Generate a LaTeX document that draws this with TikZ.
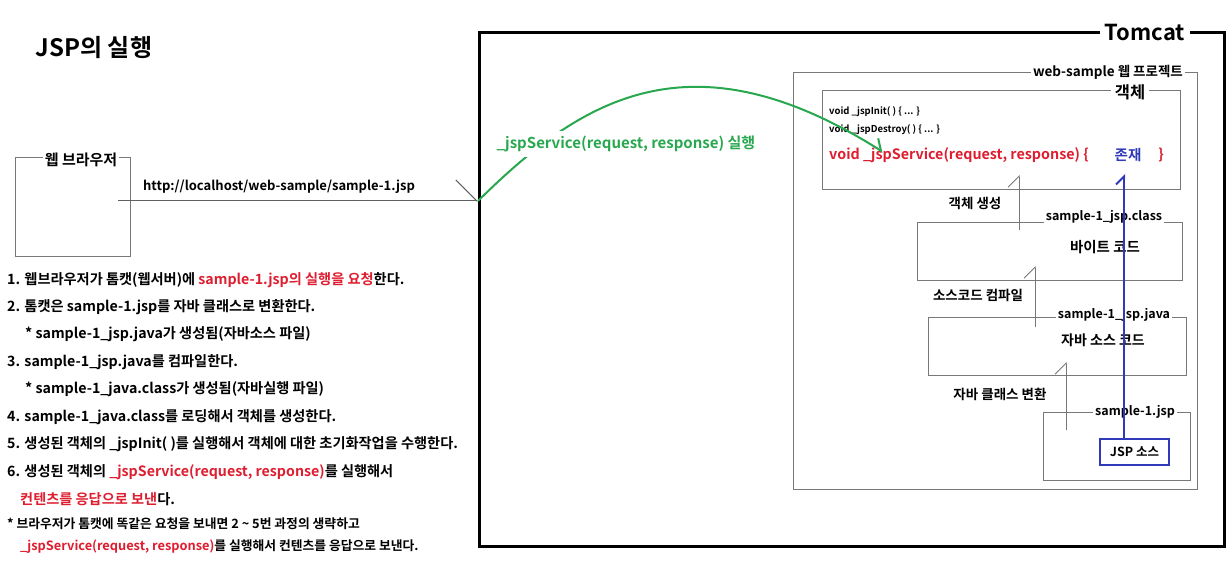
\documentclass[tikz,border=0pt]{standalone}
\usepackage{fontspec}
\setmainfont{Noto Sans CJK KR}[BoldFont={* Bold}]
\usetikzlibrary{arrows.meta}

\definecolor{jspred}{RGB}{222,30,48}
\definecolor{jspgreen}{RGB}{40,168,78}
\definecolor{jspblue}{RGB}{48,58,185}
\definecolor{boxgray}{RGB}{120,120,120}

\newcommand{\fs}[1]{\fontsize{#1}{#1}\selectfont\bfseries}

\begin{document}
\begin{tikzpicture}[x=1pt,y=-1pt,
    frame/.style={draw=boxgray,line width=1pt,anchor=north west,inner sep=0pt},
    tag/.style={fill=white,inner sep=2pt,font=\fs{12.5}},
    item/.style={anchor=west,inner sep=0pt,font=\fs{14.2}},
    half/.style={-{Straight Barb[harpoon,length=#1,width=2*#1]}},
    flow/.style={draw=boxgray,line width=1pt,half=11pt}]

    \useasboundingbox (0,0) rectangle (1231,572);
    \fill[white] (0,0) rectangle (1231,572);

    % Title
    \node[font=\fs{24}] (title) at (94,48) {JSP의 실행};

    % Web browser
    \node[frame,minimum width=115pt,minimum height=99pt] (browser) at (15,157) {};
    \node[tag,font=\fs{15}] (browsertag) at (81,160) {웹 브라우저};

    % Tomcat
    \node[draw,line width=3pt,anchor=north west,inner sep=0pt,
          minimum width=745pt,minimum height=514pt] (tomcat) at (478,31) {};
    \node[fill=white,inner sep=5pt,font=\fs{22}] (tomcattag) at (1145,33) {Tomcat};

    % Web project boxes
    \node[frame,minimum width=404pt,minimum height=417pt] (project) at (793,72) {};
    \node[tag,font=\fs{13.5}] (projecttag) at (1108,72) {web-sample 웹 프로젝트};

    \node[frame,minimum width=358pt,minimum height=99pt] (object) at (822,90) {};
    \node[tag,inner sep=4pt,font=\fs{16.5}] (objecttag) at (1130,92) {객체};

    \node[frame,minimum width=265pt,minimum height=58pt] (classbox) at (917,222) {};
    \node[tag] (classtag) at (1104,217) {sample-1\_jsp.class};

    \node[frame,minimum width=258pt,minimum height=58pt] (javabox) at (928,317) {};
    \node[tag] (javatag) at (1114,315) {sample-1\_jsp.java};

    \node[frame,minimum width=147pt,minimum height=68pt] (jspbox) at (1043,412) {};
    \node[tag] (jsptag) at (1135,412) {sample-1.jsp};

    \node[draw=jspblue,line width=2pt,anchor=north west,inner sep=0pt,
          minimum width=69pt,minimum height=26pt,font=\fs{12.5}] (jspsrc) at (1099,438) {JSP 소스};

    % Object methods
    \node[anchor=west,inner sep=0pt,font=\fs{9.5}] (init) at (829,112) {void \_jspInit( ) \{ ... \}};
    \node[anchor=west,inner sep=0pt,font=\fs{9.5}] (destroy) at (829,130) {void \_jspDestroy( ) \{ ... \}};
    \node[anchor=west,inner sep=0pt,font=\fs{14.3},text=jspred] (service) at (829,155) {void \_jspService(request, response) \{};
    \node[inner sep=0pt,font=\fs{14.5},text=jspblue] (exists) at (1128,155) {존재};
    \node[inner sep=0pt,font=\fs{14.3},text=jspred] (close) at (1161,155) {\}};

    % Box contents and step labels
    \node[font=\fs{14.5}] (bytecode) at (1105,247) {바이트 코드};
    \node[font=\fs{14}] (javacode) at (1103,340) {자바 소스 코드};
    \node[font=\fs{13.5}] (create) at (975,203) {객체 생성};
    \node[font=\fs{13.5}] (compile) at (978,295) {소스코드 컴파일};
    \node[font=\fs{13.5}] (convert) at (1000,394) {자바 클래스 변환};

    % Arrows inside the project
    \coordinate (c1) at (1019,230); \coordinate (o1) at (1019,175);
    \coordinate (j1) at (1035,327); \coordinate (c2) at (1035,266);
    \coordinate (s1) at (1066,430); \coordinate (j2) at (1066,362);
    \coordinate (src) at (1124,438); \coordinate (o2) at (1124,174);
    \draw[flow] (c1) -- (o1);
    \draw[flow] (j1) -- (c2);
    \draw[flow] (s1) -- (j2);
    \draw[jspblue,line width=2pt,half=8pt] (src) -- (o2);

    % Request from the browser
    \coordinate (urlstart) at (118,201);
    \coordinate (urlend) at (478,201);
    \draw[boxgray!80!black,line width=1pt,half=21pt] (urlstart) -- (urlend);
    \node[font=\fs{13}] (url) at (279,187) {http://localhost/web-sample/sample-1.jsp};

    % _jspService call
    \coordinate (svc) at (883,152);
    \draw[jspgreen,line width=2pt,half=9pt] (urlend) .. controls (580,100) and (690,30) .. (svc);
    \node[fill=white,inner sep=5pt,font=\fs{15},text=jspgreen] (call) at (626,144) {\_jspService(request, response) 실행};

    % Steps
    \node[item] (l1) at (7,280) {1. 웹브라우저가 톰캣(웹서버)에 \textcolor{jspred}{sample-1.jsp의 실행을 요청}한다.};
    \node[item] (l2) at (7,307) {2. 톰캣은 sample-1.jsp를 자바 클래스로 변환한다.};
    \node[item] (l3) at (25,334) {* sample-1\_jsp.java가 생성됨(자바소스 파일)};
    \node[item] (l4) at (7,362) {3. sample-1\_jsp.java를 컴파일한다.};
    \node[item] (l5) at (25,389) {* sample-1\_java.class가 생성됨(자바실행 파일)};
    \node[item] (l6) at (7,417) {4. sample-1\_java.class를 로딩해서 객체를 생성한다.};
    \node[item] (l7) at (7,444) {5. 생성된 객체의 \_jspInit( )를 실행해서 객체에 대한 초기화작업을 수행한다.};
    \node[item] (l8) at (7,472) {6. 생성된 객체의 \textcolor{jspred}{\_jspService(request, response)}를 실행해서};
    \node[item] (l9) at (20,499) {\textcolor{jspred}{컨텐츠를 응답으로 보낸}다.};
    \node[item,font=\fs{12.8}] (n1) at (7,524) {* 브라우저가 톰캣에 똑같은 요청을 보내면 2 \textasciitilde{} 5번 과정의 생략하고};
    \node[item,font=\fs{12.8}] (n2) at (20,547) {\textcolor{jspred}{\_jspService(request, response)}를 실행해서 컨텐츠를 응답으로 보낸다.};

\end{tikzpicture}
\end{document}
